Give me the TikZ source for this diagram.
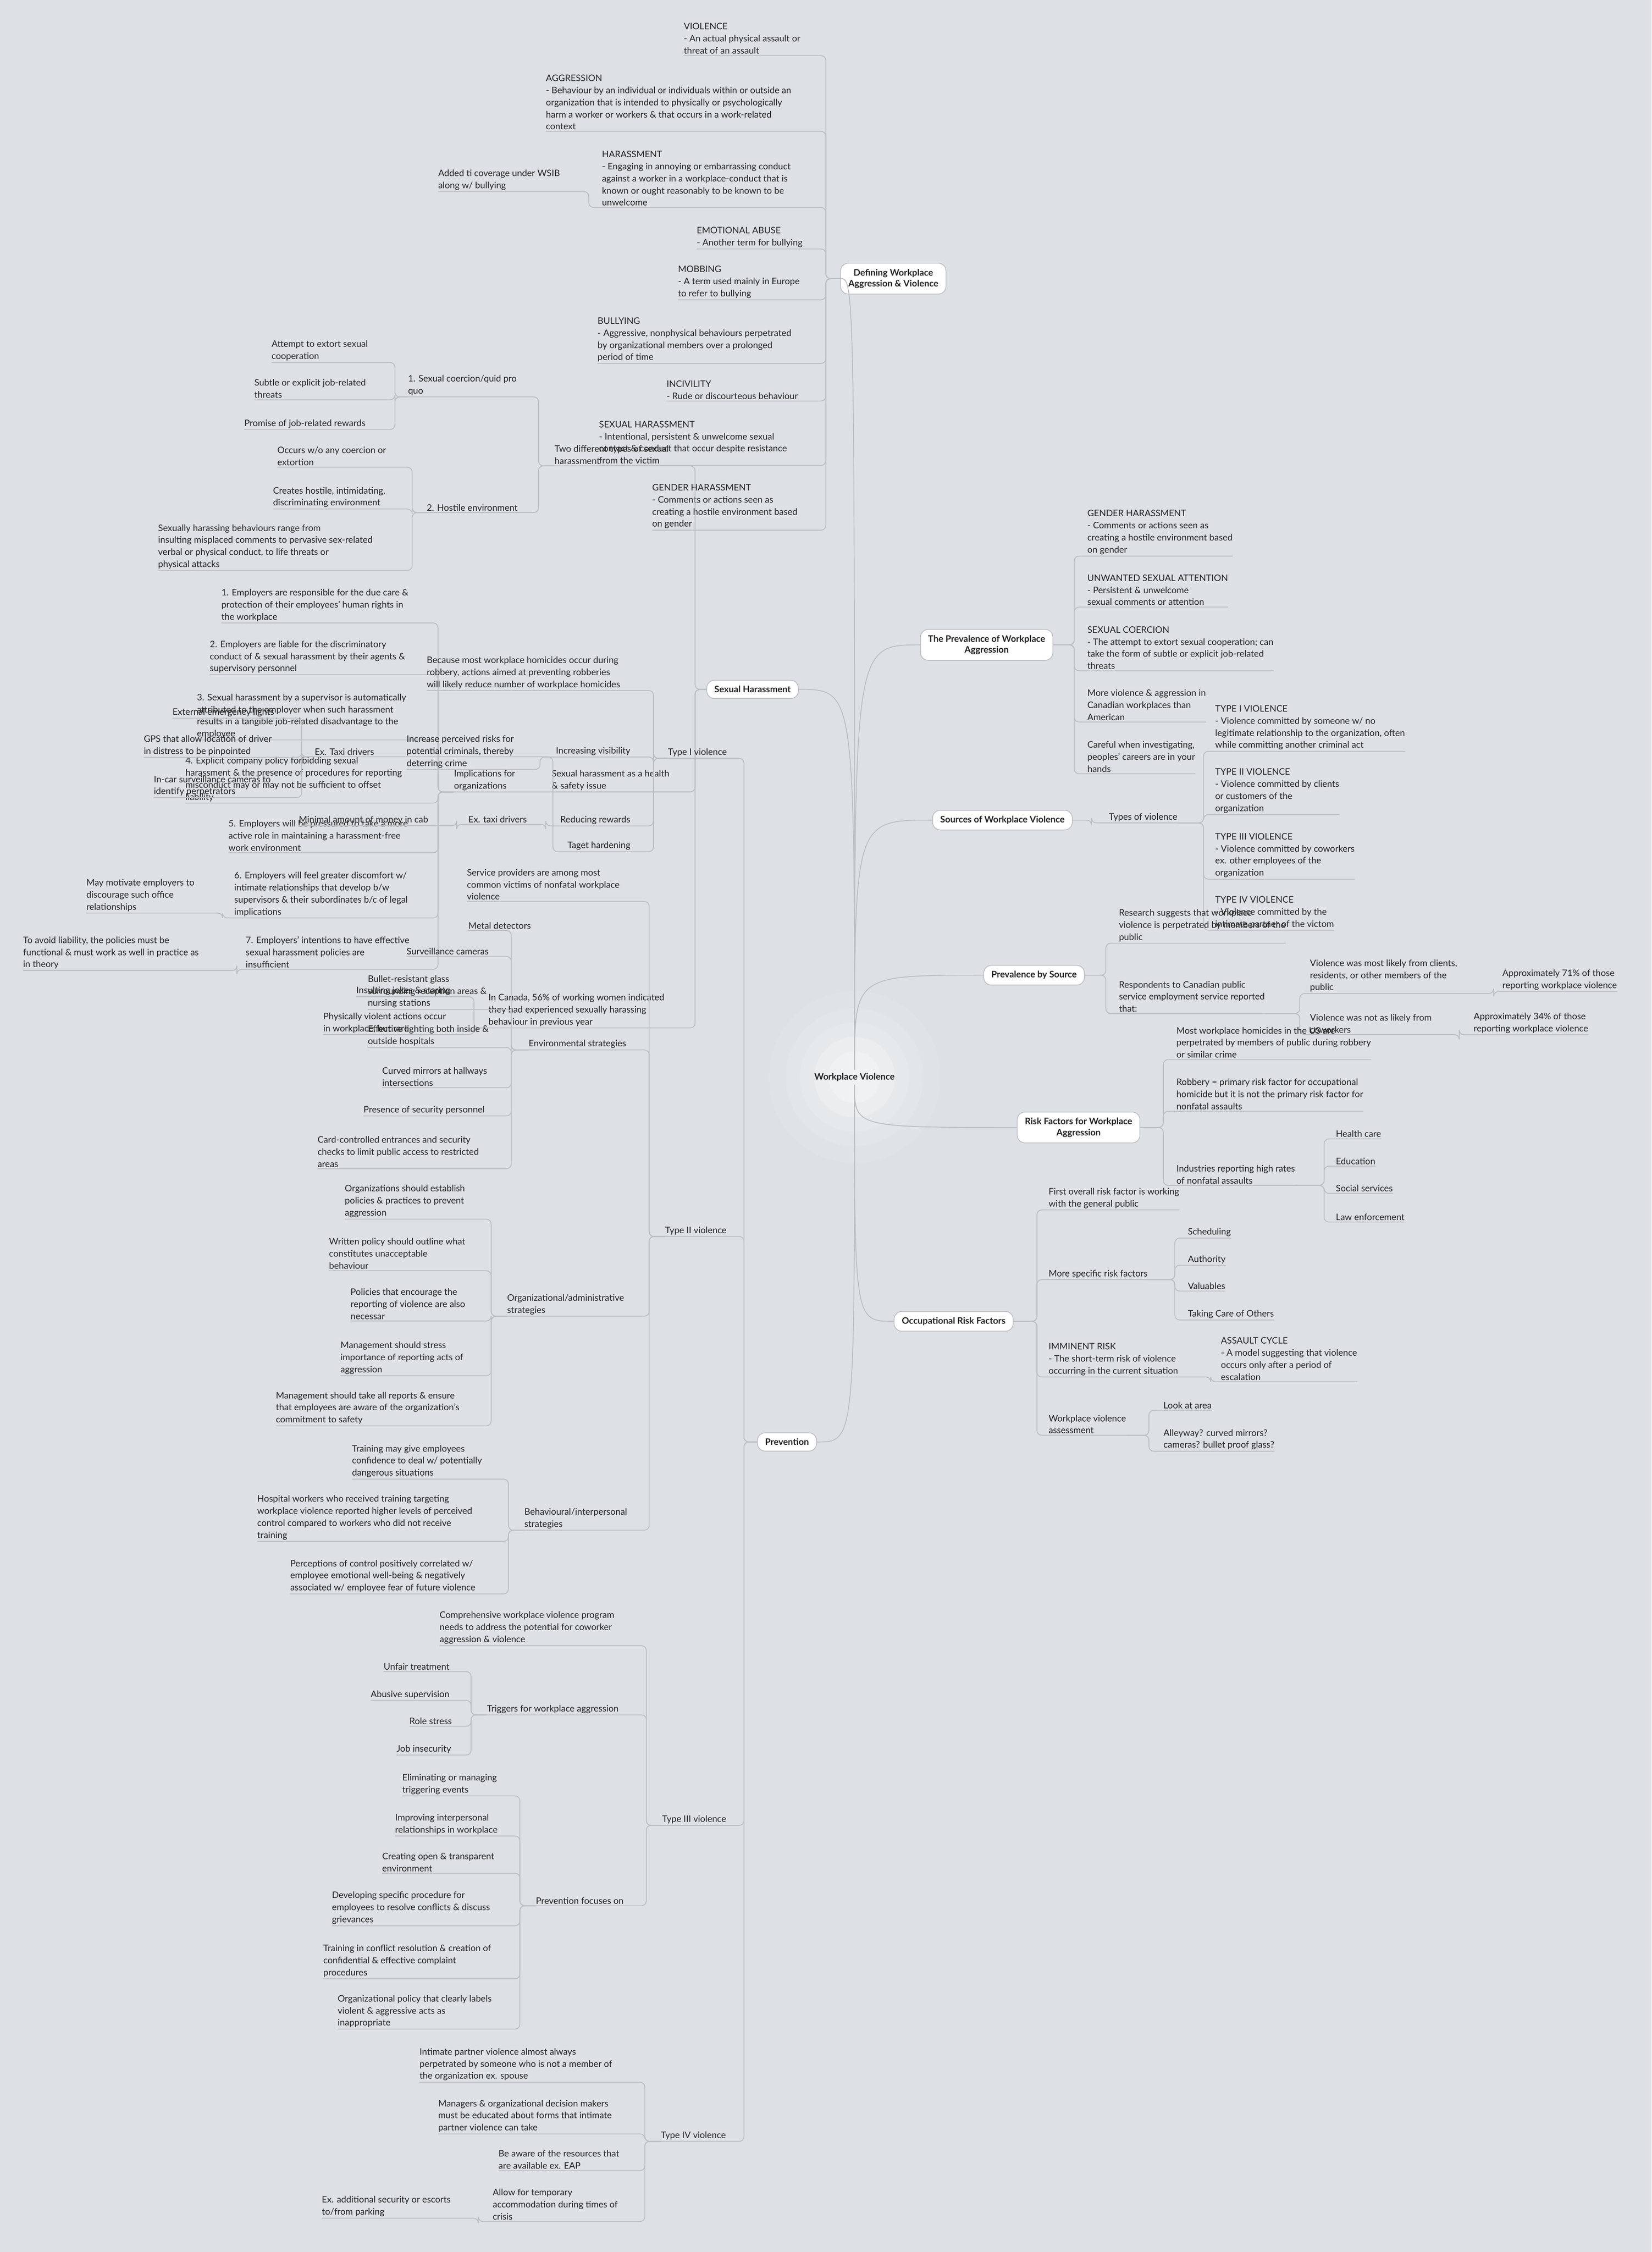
\documentclass[tikz,border=0pt]{standalone}
\usepackage{fontspec}
\setmainfont{Lato}
\usetikzlibrary{calc}
\definecolor{bg}{HTML}{DDE0E4}
\definecolor{ln}{HTML}{BBBEC2}
\definecolor{tx}{HTML}{222222}
\tikzset{lf/.style={anchor=north west,align=left,inner xsep=0pt,inner ysep=1.5pt,font=\fontsize{9.4}{12.6}\selectfont,text=tx},
bx/.style={draw=ln,fill=white,rounded corners=8pt,align=center,font=\fontsize{9.4}{11.5}\selectfont\bfseries,inner xsep=8pt,inner ysep=6pt,line width=0.8pt,text=tx},
br/.style={draw=ln,line width=0.9pt,rounded corners=5pt}}
\newcommand\nd[4]{\node[lf] (#1) at (#2,#3) {#4};}
\newcommand\lc[3]{\draw[br] let \p1=(#2.south west) in (\p1) -- (#3*1.5pt,\y1) |- (#1);}
\newcommand\rc[3]{\draw[br] let \p1=(#2.south east) in (\p1) -- (#3*1.5pt,\y1) |- (#1);}
\newcommand\up[2]{\draw[draw=ln,line width=0.9pt] (root.north) .. controls (root.north |- #1) .. (#1);}
\newcommand\dn[2]{\draw[draw=ln,line width=0.9pt] (root.south) .. controls (root.south |- #1) .. (#1);}
\begin{document}
\begin{tikzpicture}[x=1.5pt,y=-1.5pt]
\fill[bg] (0,0) rectangle (1150,1568);
\useasboundingbox (0,0) rectangle (1150,1568);
\foreach \r/\o in {60/0.08,48/0.12,38/0.16,28/0.2,18/0.25}{\fill[white,opacity=\o] (595,750) circle (\r);}
\node[font=\fontsize{9.4}{11}\selectfont\bfseries,text=tx] (root) at (595,750) {Workplace Violence};
% main boxes
\node[bx] (def) at (622,194) {Defining Workplace\\Aggression \& Violence};
\node[bx] (pwa) at (687,449) {The Prevalence of Workplace\\Aggression};
\node[bx] (src) at (698,571) {Sources of Workplace Violence};
\node[bx] (pbs) at (720,679) {Prevalence by Source};
\node[bx] (rf) at (751,785) {Risk Factors for Workplace\\Aggression};
\node[bx] (orf) at (664,920) {Occupational Risk Factors};
\node[bx] (sh) at (524,480) {Sexual Harassment};
\node[bx] (pr) at (548,1004) {Prevention};
\up{def.west}{}
\up{pwa.west}{}
\up{src.west}{}
\up{pbs.west}{}
\dn{rf.west}{}
\dn{orf.west}{}
\up{sh.east}{}
\dn{pr.east}{}
% Defining
\nd{d1}{476}{15}{VIOLENCE\\- An actual physical assault or\\threat of an assault}
\nd{d2}{380}{51}{AGGRESSION\\- Behaviour by an individual or individuals within or outside an\\organization that is intended to physically or psychologically\\harm a worker or workers \& that occurs in a work-related\\context}
\nd{d3}{419}{104}{HARASSMENT\\- Engaging in annoying or embarrassing conduct\\against a worker in a workplace-conduct that is\\known or ought reasonably to be known to be\\unwelcome}
\nd{d3a}{305}{117}{Added ti coverage under WSIB\\along w/ bullying}
\nd{d4}{485}{157}{EMOTIONAL ABUSE\\- Another term for bullying}
\nd{d5}{472}{184}{MOBBING\\- A term used mainly in Europe\\to refer to bullying}
\nd{d6}{416}{220}{BULLYING\\- Aggressive, nonphysical behaviours perpetrated\\by organizational members over a prolonged\\period of time}
\nd{d7}{464}{264}{INCIVILITY\\- Rude or discourteous behaviour}
\nd{d8}{417}{292}{SEXUAL HARASSMENT\\- Intentional, persistent \& unwelcome sexual\\contact \& conduct that occur despite resistance\\from the victim}
\nd{d9}{454}{336}{GENDER HARASSMENT\\- Comments or actions seen as\\creating a hostile environment based\\on gender}
\foreach \c in {d1,d2,d3,d4,d5,d6,d7,d8,d9}{\lc{def.west}{\c}{575}}
\lc{d3.south west}{d3a}{410}
% Prevalence of workplace aggression
\nd{p1}{757}{354}{GENDER HARASSMENT\\- Comments or actions seen as\\creating a hostile environment based\\on gender}
\nd{p2}{757}{399}{UNWANTED SEXUAL ATTENTION\\- Persistent \& unwelcome\\sexual comments or attention}
\nd{p3}{757}{435}{SEXUAL COERCION\\- The attempt to extort sexual cooperation; can\\take the form of subtle or explicit job-related\\threats}
\nd{p4}{757}{479}{More violence \& aggression in\\Canadian workplaces than\\American}
\nd{p5}{757}{515}{Careful when investigating,\\peoples' careers are in your\\hands}
\foreach \c in {p1,p2,p3,p4,p5}{\rc{pwa.east}{\c}{748}}
% Sources
\nd{s0}{772}{565}{Types of violence}
\rc{src.east}{s0}{760}
\nd{s1}{846}{490}{TYPE I VIOLENCE\\- Violence committed by someone w/ no\\legitimate relationship to the organization, often\\while committing another criminal act}
\nd{s2}{846}{534}{TYPE II VIOLENCE\\- Violence committed by clients\\or customers of the\\organization}
\nd{s3}{846}{579}{TYPE III VIOLENCE\\- Violence committed by coworkers\\ex. other employees of the\\organization}
\nd{s4}{846}{623}{TYPE IV VIOLENCE\\- Violence committed by the\\intimate partner of the victom}
\foreach \c in {s1,s2,s3,s4}{\rc{s0.south east}{\c}{838}}
% Prevalence by source
\nd{b1}{779}{632}{Research suggests that workplace\\violence is perpetrated by members of the\\public}
\nd{b2}{779}{682}{Respondents to Canadian public\\service employment service reported\\that:}
\foreach \c in {b1,b2}{\rc{pbs.east}{\c}{770}}
\nd{b3}{912}{667}{Violence was most likely from clients,\\residents, or other members of the\\public}
\nd{b4}{912}{705}{Violence was not as likely from\\coworkers}
\foreach \c in {b3,b4}{\rc{b2.south east}{\c}{905}}
\nd{b5}{1046}{674}{Approximately 71\% of those\\reporting workplace violence}
\rc{b3.south east}{b5}{1040}
\nd{b6}{1026}{704}{Approximately 34\% of those\\reporting workplace violence}
\rc{b4.south east}{b6}{1016}
% Risk factors
\nd{r1}{819}{714}{Most workplace homicides in the US are\\perpetrated by members of public during robbery\\or similar crime}
\nd{r2}{819}{750}{Robbery = primary risk factor for occupational\\homicide but it is not the primary risk factor for\\nonfatal assaults}
\nd{r3}{819}{810}{Industries reporting high rates\\of nonfatal assaults}
\foreach \c in {r1,r2,r3}{\rc{rf.east}{\c}{810}}
\nd{r4}{930}{786}{Health care}
\nd{r5}{930}{805}{Education}
\nd{r6}{930}{824}{Social services}
\nd{r7}{930}{844}{Law enforcement}
\foreach \c in {r4,r5,r6,r7}{\rc{r3.south east}{\c}{922}}
% Occupational
\nd{o1}{730}{826}{First overall risk factor is working\\with the general public}
\nd{o2}{730}{883}{More specific risk factors}
\nd{o3}{730}{934}{IMMINENT RISK\\- The short-term risk of violence\\occurring in the current situation}
\nd{o4}{730}{984}{Workplace violence\\assessment}
\foreach \c in {o1,o2,o3,o4}{\rc{orf.east}{\c}{722}}
\nd{o5}{827}{854}{Scheduling}
\nd{o6}{827}{873}{Authority}
\nd{o7}{827}{892}{Valuables}
\nd{o8}{827}{911}{Taking Care of Others}
\foreach \c in {o5,o6,o7,o8}{\rc{o2.south east}{\c}{818}}
\nd{o9}{850}{930}{ASSAULT CYCLE\\- A model suggesting that violence\\occurs only after a period of\\escalation}
\rc{o3.south east}{o9}{843}
\nd{o10}{810}{975}{Look at area}
\nd{o11}{810}{994}{Alleyway? curved mirrors?\\ cameras? bullet proof glass?}
\foreach \c in {o10,o11}{\rc{o4.south east}{\c}{800}}
% Sexual harassment
\nd{h1}{386}{309}{Two different types of sexual\\harassment}
\nd{h2}{316}{535}{Implications for\\organizations}
\nd{h3}{384}{535}{Sexual harassment as a health\\\& safety issue}
\nd{h4}{340}{691}{In Canada, 56\% of working women indicated\\they had experienced sexually harassing\\behaviour in previous year}
\foreach \c in {h1,h2,h3,h4}{\lc{sh.west}{\c}{484}}
\nd{h5}{284}{260}{1. Sexual coercion/quid pro\\quo}
\nd{h6}{297}{350}{2. Hostile environment}
\foreach \c in {h5,h6}{\lc{h1.south west}{\c}{375}}
\nd{h7}{189}{236}{Attempt to extort sexual\\cooperation}
\nd{h8}{177}{263}{Subtle or explicit job-related\\threats}
\nd{h9}{170}{291}{Promise of job-related rewards}
\foreach \c in {h7,h8,h9}{\lc{h5.south west}{\c}{275}}
\nd{h10}{193}{310}{Occurs w/o any coercion or\\extortion}
\nd{h11}{190}{338}{Creates hostile, intimidating,\\discriminating environment}
\nd{h12}{110}{364}{Sexually harassing behaviours range from\\insulting misplaced comments to pervasive sex-related\\verbal or physical conduct, to life threats or\\physical attacks}
\foreach \c in {h10,h11,h12}{\lc{h6.south west}{\c}{287}}
\nd{i1}{154}{409}{1. Employers are responsible for the due care \&\\protection of their employees' human rights in\\the workplace}
\nd{i2}{146}{445}{2. Employers are liable for the discriminatory\\conduct of \& sexual harassment by their agents \&\\supervisory personnel}
\nd{i3}{137}{482}{3. Sexual harassment by a supervisor is automatically\\attributed to the employer when such harassment\\results in a tangible job-related disadvantage to the\\employee}
\nd{i4}{129}{526}{4. Explicit company policy forbidding sexual\\harassment \& the presence of procedures for reporting\\misconduct may or may not be sufficient to offset\\liability}
\nd{i5}{159}{570}{5. Employers will be pressured to take a more\\active role in maintaining a harassment-free\\work environment}
\nd{i6}{163}{606}{6. Employers will feel greater discomfort w/\\intimate relationships that develop b/w\\supervisors \& their subordinates b/c of legal\\implications}
\nd{i7}{171}{651}{7. Employers' intentions to have effective\\sexual harassment policies are\\insufficient}
\foreach \c in {i1,i2,i3,i4,i5,i6,i7}{\lc{h2.south west}{\c}{305}}
\nd{i8}{60}{611}{May motivate employers to\\discourage such office\\relationships}
\lc{i6.south west}{i8}{155}
\nd{i9}{16}{651}{To avoid liability, the policies must be\\functional \& must work as well in practice as\\in theory}
\lc{i7.south west}{i9}{165}
\nd{i10}{248}{686}{Insulting jokes \& staring}
\nd{i11}{225}{704}{Physically violent actions occur\\in workplace, but rare}
\foreach \c in {i10,i11}{\lc{h4.south west}{\c}{330}}
% Prevention
\nd{t1}{465}{520}{Type I violence}
\nd{t2}{463}{853}{Type II violence}
\nd{t3}{461}{1263}{Type III violence}
\nd{t4}{460}{1483}{Type IV violence}
\foreach \c in {t1,t2,t3,t4}{\lc{pr.west}{\c}{518}}
% Type I
\nd{a1}{297}{456}{Because most workplace homicides occur during\\robbery, actions aimed at preventing robberies\\will likely reduce number of workplace homicides}
\nd{a2}{387}{519}{Increasing visibility}
\nd{a3}{390}{567}{Reducing rewards}
\nd{a4}{395}{585}{Taget hardening}
\foreach \c in {a1,a2,a3,a4}{\lc{t1.south west}{\c}{455}}
\nd{a5}{283}{511}{Increase perceived risks for\\potential criminals, thereby\\deterring crime}
\lc{a2.south west}{a5}{376}
\nd{a6}{326}{567}{Ex. taxi drivers}
\lc{a3.south west}{a6}{380}
\nd{a7}{208}{567}{Minimal amount of money in cab}
\lc{a6.south west}{a7}{318}
\nd{a8}{219}{520}{Ex. Taxi drivers}
\lc{a4.south west}{a8}{385}
\nd{a9}{120}{492}{External emergency lights}
\nd{a10}{100}{511}{GPS that allow location of driver\\in distress to be pinpointed}
\nd{a11}{107}{539}{In-car surveillance cameras to\\identify perpetrators}
\foreach \c in {a9,a10,a11}{\lc{a8.south west}{\c}{210}}
% Type II
\nd{e1}{325}{604}{Service providers are among most\\common victims of nonfatal workplace\\violence}
\nd{e2}{368}{723}{Environmental strategies}
\nd{e3}{353}{900}{Organizational/administrative\\strategies}
\nd{e4}{365}{1049}{Behavioural/interpersonal\\strategies}
\foreach \c in {e1,e2,e3,e4}{\lc{t2.south west}{\c}{452}}
\nd{f1}{326}{641}{Metal detectors}
\nd{f2}{283}{659}{Surveillance cameras}
\nd{f3}{256}{678}{Bullet-resistant glass\\surrounding reception areas \&\\nursing stations}
\nd{f4}{256}{713}{Effective lighting both inside \&\\outside hospitals}
\nd{f5}{266}{742}{Curved mirrors at hallways\\intersections}
\nd{f6}{253}{769}{Presence of security personnel}
\nd{f7}{221}{790}{Card-controlled entrances and security\\checks to limit public access to restricted\\areas}
\foreach \c in {f1,f2,f3,f4,f5,f6,f7}{\lc{e2.south west}{\c}{356}}
\nd{g1}{240}{824}{Organizations should establish\\policies \& practices to prevent\\aggression}
\nd{g2}{229}{861}{Written policy should outline what\\constitutes unacceptable\\behaviour}
\nd{g3}{244}{896}{Policies that encourage the\\reporting of violence are also\\necessar}
\nd{g4}{237}{933}{Management should stress\\importance of reporting acts of\\aggression}
\nd{g5}{192}{968}{Management should take all reports \& ensure\\that employees are aware of the organization's\\commitment to safety}
\foreach \c in {g1,g2,g3,g4,g5}{\lc{e3.south west}{\c}{342}}
\nd{k1}{245}{1005}{Training may give employees\\confidence to deal w/ potentially\\dangerous situations}
\nd{k2}{179}{1040}{Hospital workers who received training targeting\\workplace violence reported higher levels of perceived\\control compared to workers who did not receive\\training}
\nd{k3}{202}{1085}{Perceptions of control positively correlated w/\\employee emotional well-being \& negatively\\associated w/ employee fear of future violence}
\foreach \c in {k1,k2,k3}{\lc{e4.south west}{\c}{354}}
% Type III
\nd{m1}{306}{1121}{Comprehensive workplace violence program\\needs to address the potential for coworker\\aggression \& violence}
\nd{m2}{339}{1186}{Triggers for workplace aggression}
\nd{m3}{373}{1320}{Prevention focuses on}
\foreach \c in {m1,m2,m3}{\lc{t3.south west}{\c}{450}}
\nd{m4}{267}{1157}{Unfair treatment}
\nd{m5}{258}{1176}{Abusive supervision}
\nd{m6}{285}{1195}{Role stress}
\nd{m7}{276}{1214}{Job insecurity}
\foreach \c in {m4,m5,m6,m7}{\lc{m2.south west}{\c}{328}}
\nd{n1}{280}{1234}{Eliminating or managing\\triggering events}
\nd{n2}{275}{1262}{Improving interpersonal\\relationships in workplace}
\nd{n3}{266}{1289}{Creating open \& transparent\\environment}
\nd{n4}{231}{1316}{Developing specific procedure for\\employees to resolve conflicts \& discuss\\grievances}
\nd{n5}{225}{1353}{Training in conflict resolution \& creation of\\confidential \& effective complaint\\procedures}
\nd{n6}{235}{1388}{Organizational policy that clearly labels\\violent \& aggressive acts as\\inappropriate}
\foreach \c in {n1,n2,n3,n4,n5,n6}{\lc{m3.south west}{\c}{362}}
% Type IV
\nd{q1}{292}{1425}{Intimate partner violence almost always\\perpetrated by someone who is not a member of\\the organization ex. spouse}
\nd{q2}{305}{1461}{Managers \& organizational decision makers\\must be educated about forms that intimate\\partner violence can take}
\nd{q3}{347}{1496}{Be aware of the resources that\\are available ex. EAP}
\nd{q4}{343}{1523}{Allow for temporary\\accommodation during times of\\crisis}
\foreach \c in {q1,q2,q3,q4}{\lc{t4.south west}{\c}{449}}
\nd{q5}{224}{1528}{Ex. additional security or escorts\\to/from parking}
\lc{q4.south west}{q5}{333}
\end{tikzpicture}
\end{document}
